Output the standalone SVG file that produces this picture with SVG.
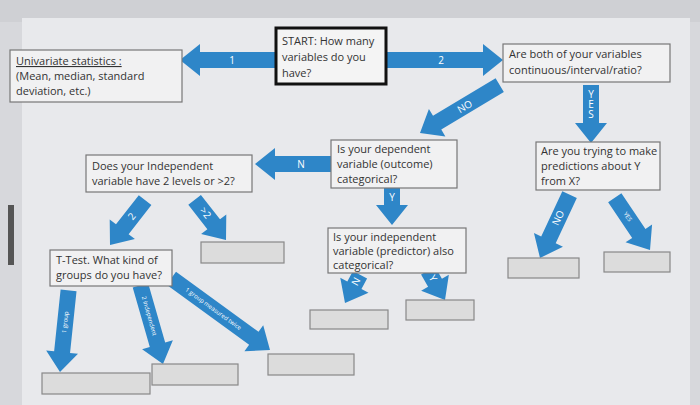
<svg xmlns="http://www.w3.org/2000/svg" width="700" height="405" viewBox="0 0 700 405">
<style>
.b{fill:#f1f1f2;stroke:#777;stroke-width:1.2}
.e{fill:#dcdcdc;stroke:#888;stroke-width:1.2}
.t{font-family:"Open Sans","Liberation Sans",sans-serif;font-size:11px;fill:#333}
.a{fill:#2e86c8}
.l{font-family:"Open Sans","Liberation Sans",sans-serif;font-size:10px;fill:#fff;text-anchor:middle}
.s{font-size:6px}
</style>
<rect width="700" height="405" fill="#d7d8dc"/>
<rect x="0" y="0" width="700" height="22" fill="#cfd0d4"/>
<rect x="22" y="18" width="668" height="387" fill="#e8e9ec"/>
<rect x="8" y="205" width="6" height="60" fill="#555"/>
<g id="connectors">
<g transform="translate(180,60) rotate(180)"><polygon class="a" points="-96,-8 -20,-8 -20,-16 0,0 -20,16 -20,8 -96,8"/><text class="l" transform="translate(-52,-4) rotate(180)">1</text></g>
<g transform="translate(503,60)"><polygon class="a" points="-117,-8 -20,-8 -20,-16 0,0 -20,16 -20,8 -117,8"/><text class="l" x="-62" y="4">2</text></g>
<g transform="translate(420,133) rotate(149)"><polygon class="a" points="-93,-8 -20,-8 -20,-16 0,0 -20,16 -20,8 -93,8"/><text class="l" transform="translate(-52,-4) rotate(180)">NO</text></g>
<g transform="translate(591,143) rotate(90)"><polygon class="a" points="-58,-8 -20,-8 -20,-16 0,0 -20,16 -20,8 -58,8"/><text class="l" font-size="8" transform="translate(-38,0) rotate(-90)"><tspan x="0" y="-7">Y</tspan><tspan x="0" y="3">E</tspan><tspan x="0" y="13">S</tspan></text></g>
<g transform="translate(255,164) rotate(180)"><polygon class="a" points="-76,-8 -20,-8 -20,-16 0,0 -20,16 -20,8 -76,8"/><text class="l" transform="translate(-46,-4) rotate(180)">N</text></g>
<g transform="translate(110,245) rotate(128)"><polygon class="a" points="-57,-8 -20,-8 -20,-16 0,0 -20,16 -20,8 -57,8"/><text class="l" transform="translate(-36,-3) rotate(180)">2</text></g>
<g transform="translate(226,240) rotate(52)"><polygon class="a" points="-51,-8 -20,-8 -20,-16 0,0 -20,16 -20,8 -51,8"/><text class="l" x="-34" y="3">&gt;2</text></g>
<g transform="translate(392,225) rotate(90)"><polygon class="a" points="-37,-8 -20,-8 -20,-16 0,0 -20,16 -20,8 -37,8"/><text class="l" transform="translate(-27,0) rotate(-90)" y="3">Y</text></g>
<g transform="translate(345,303) rotate(118)"><polygon class="a" points="-32,-8 -20,-8 -20,-16 0,0 -20,16 -20,8 -32,8"/><text class="l" transform="translate(-24,-3) rotate(180)">N</text></g>
<g transform="translate(445,300) rotate(60)"><polygon class="a" points="-34,-8 -20,-8 -20,-16 0,0 -20,16 -20,8 -34,8"/><text class="l" x="-25" y="3">Y</text></g>
<g transform="translate(540,258) rotate(115)"><polygon class="a" points="-70,-8 -20,-8 -20,-16 0,0 -20,16 -20,8 -70,8"/><text class="l" transform="translate(-44,-3) rotate(180)">NO</text></g>
<g transform="translate(650,250) rotate(56)"><polygon class="a" points="-63,-8 -20,-8 -20,-16 0,0 -20,16 -20,8 -63,8"/><text class="l s" x="-40" y="2">YES</text></g>
<g transform="translate(60,372) rotate(96)"><polygon class="a" points="-82,-8 -20,-8 -20,-16 0,0 -20,16 -20,8 -82,8"/><text class="l s" transform="translate(-50,-2) rotate(180)">1 group</text></g>
<g transform="translate(163,364) rotate(74)"><polygon class="a" points="-82,-8 -20,-8 -20,-16 0,0 -20,16 -20,8 -82,8"/><text class="l s" x="-50" y="2">2 independent</text></g>
<g transform="translate(270,350) rotate(36)"><polygon class="a" points="-122,-8 -20,-8 -20,-16 0,0 -20,16 -20,8 -122,8"/><text class="l s" x="-70" y="2">1 group measured twice</text></g>
</g>
<g id="start"><rect x="276" y="28" width="110" height="56" fill="#f4f4f4" stroke="#111" stroke-width="3"/><text class="t" x="282" y="45">START: How many</text><text class="t" x="282" y="61">variables do you</text><text class="t" x="282" y="77">have?</text></g>
<g id="univariate"><rect class="b" x="10" y="50" width="172" height="52"/><text class="t" x="16" y="65" text-decoration="underline">Univariate statistics :</text><text class="t" x="16" y="80">(Mean, median, standard</text><text class="t" x="16" y="95">deviation, etc.)</text></g>
<g id="both"><rect class="b" x="503" y="44" width="167" height="38"/><text class="t" x="509" y="58" font-size="10.5">Are both of your variables</text><text class="t" x="509" y="74" font-size="10.5">continuous/interval/ratio?</text></g>
<g id="predict"><rect class="b" x="536" y="142" width="124" height="48"/><text class="t" x="541" y="155" font-size="10">Are you trying to make</text><text class="t" x="541" y="170" font-size="10">predictions about Y</text><text class="t" x="541" y="185" font-size="10">from X?</text></g>
<g id="dependent"><rect class="b" x="331" y="140" width="126" height="48"/><text class="t" x="337" y="153" font-size="10">Is your dependent</text><text class="t" x="337" y="168" font-size="10">variable (outcome)</text><text class="t" x="337" y="183" font-size="10">categorical?</text></g>
<g id="levels"><rect class="b" x="86" y="155" width="166" height="37"/><text class="t" x="92" y="170" font-size="10.5">Does your Independent</text><text class="t" x="92" y="185" font-size="10.5">variable have 2 levels or &gt;2?</text></g>
<g id="ttest"><rect class="b" x="50" y="250" width="122" height="36"/><text class="t" x="56" y="264" font-size="10.5">T-Test. What kind of</text><text class="t" x="56" y="279" font-size="10.5">groups do you have?</text></g>
<g id="indep"><rect class="b" x="328" y="228" width="138" height="45"/><text class="t" x="333" y="241" font-size="10">Is your independent</text><text class="t" x="333" y="255" font-size="10">variable (predictor) also</text><text class="t" x="333" y="269" font-size="10">categorical?</text></g>
<g id="blank1"><rect class="e" x="201" y="242" width="83" height="21"/></g>
<g id="blank2"><rect class="e" x="310" y="310" width="78" height="19"/></g>
<g id="blank3"><rect class="e" x="406" y="300" width="68" height="20"/></g>
<g id="blank4"><rect class="e" x="508" y="258" width="71" height="20"/></g>
<g id="blank5"><rect class="e" x="604" y="252" width="66" height="20"/></g>
<g id="blank6"><rect class="e" x="42" y="373" width="108" height="21"/></g>
<g id="blank7"><rect class="e" x="152" y="364" width="86" height="21"/></g>
<g id="blank8"><rect class="e" x="268" y="354" width="86" height="21"/></g>
</svg>
